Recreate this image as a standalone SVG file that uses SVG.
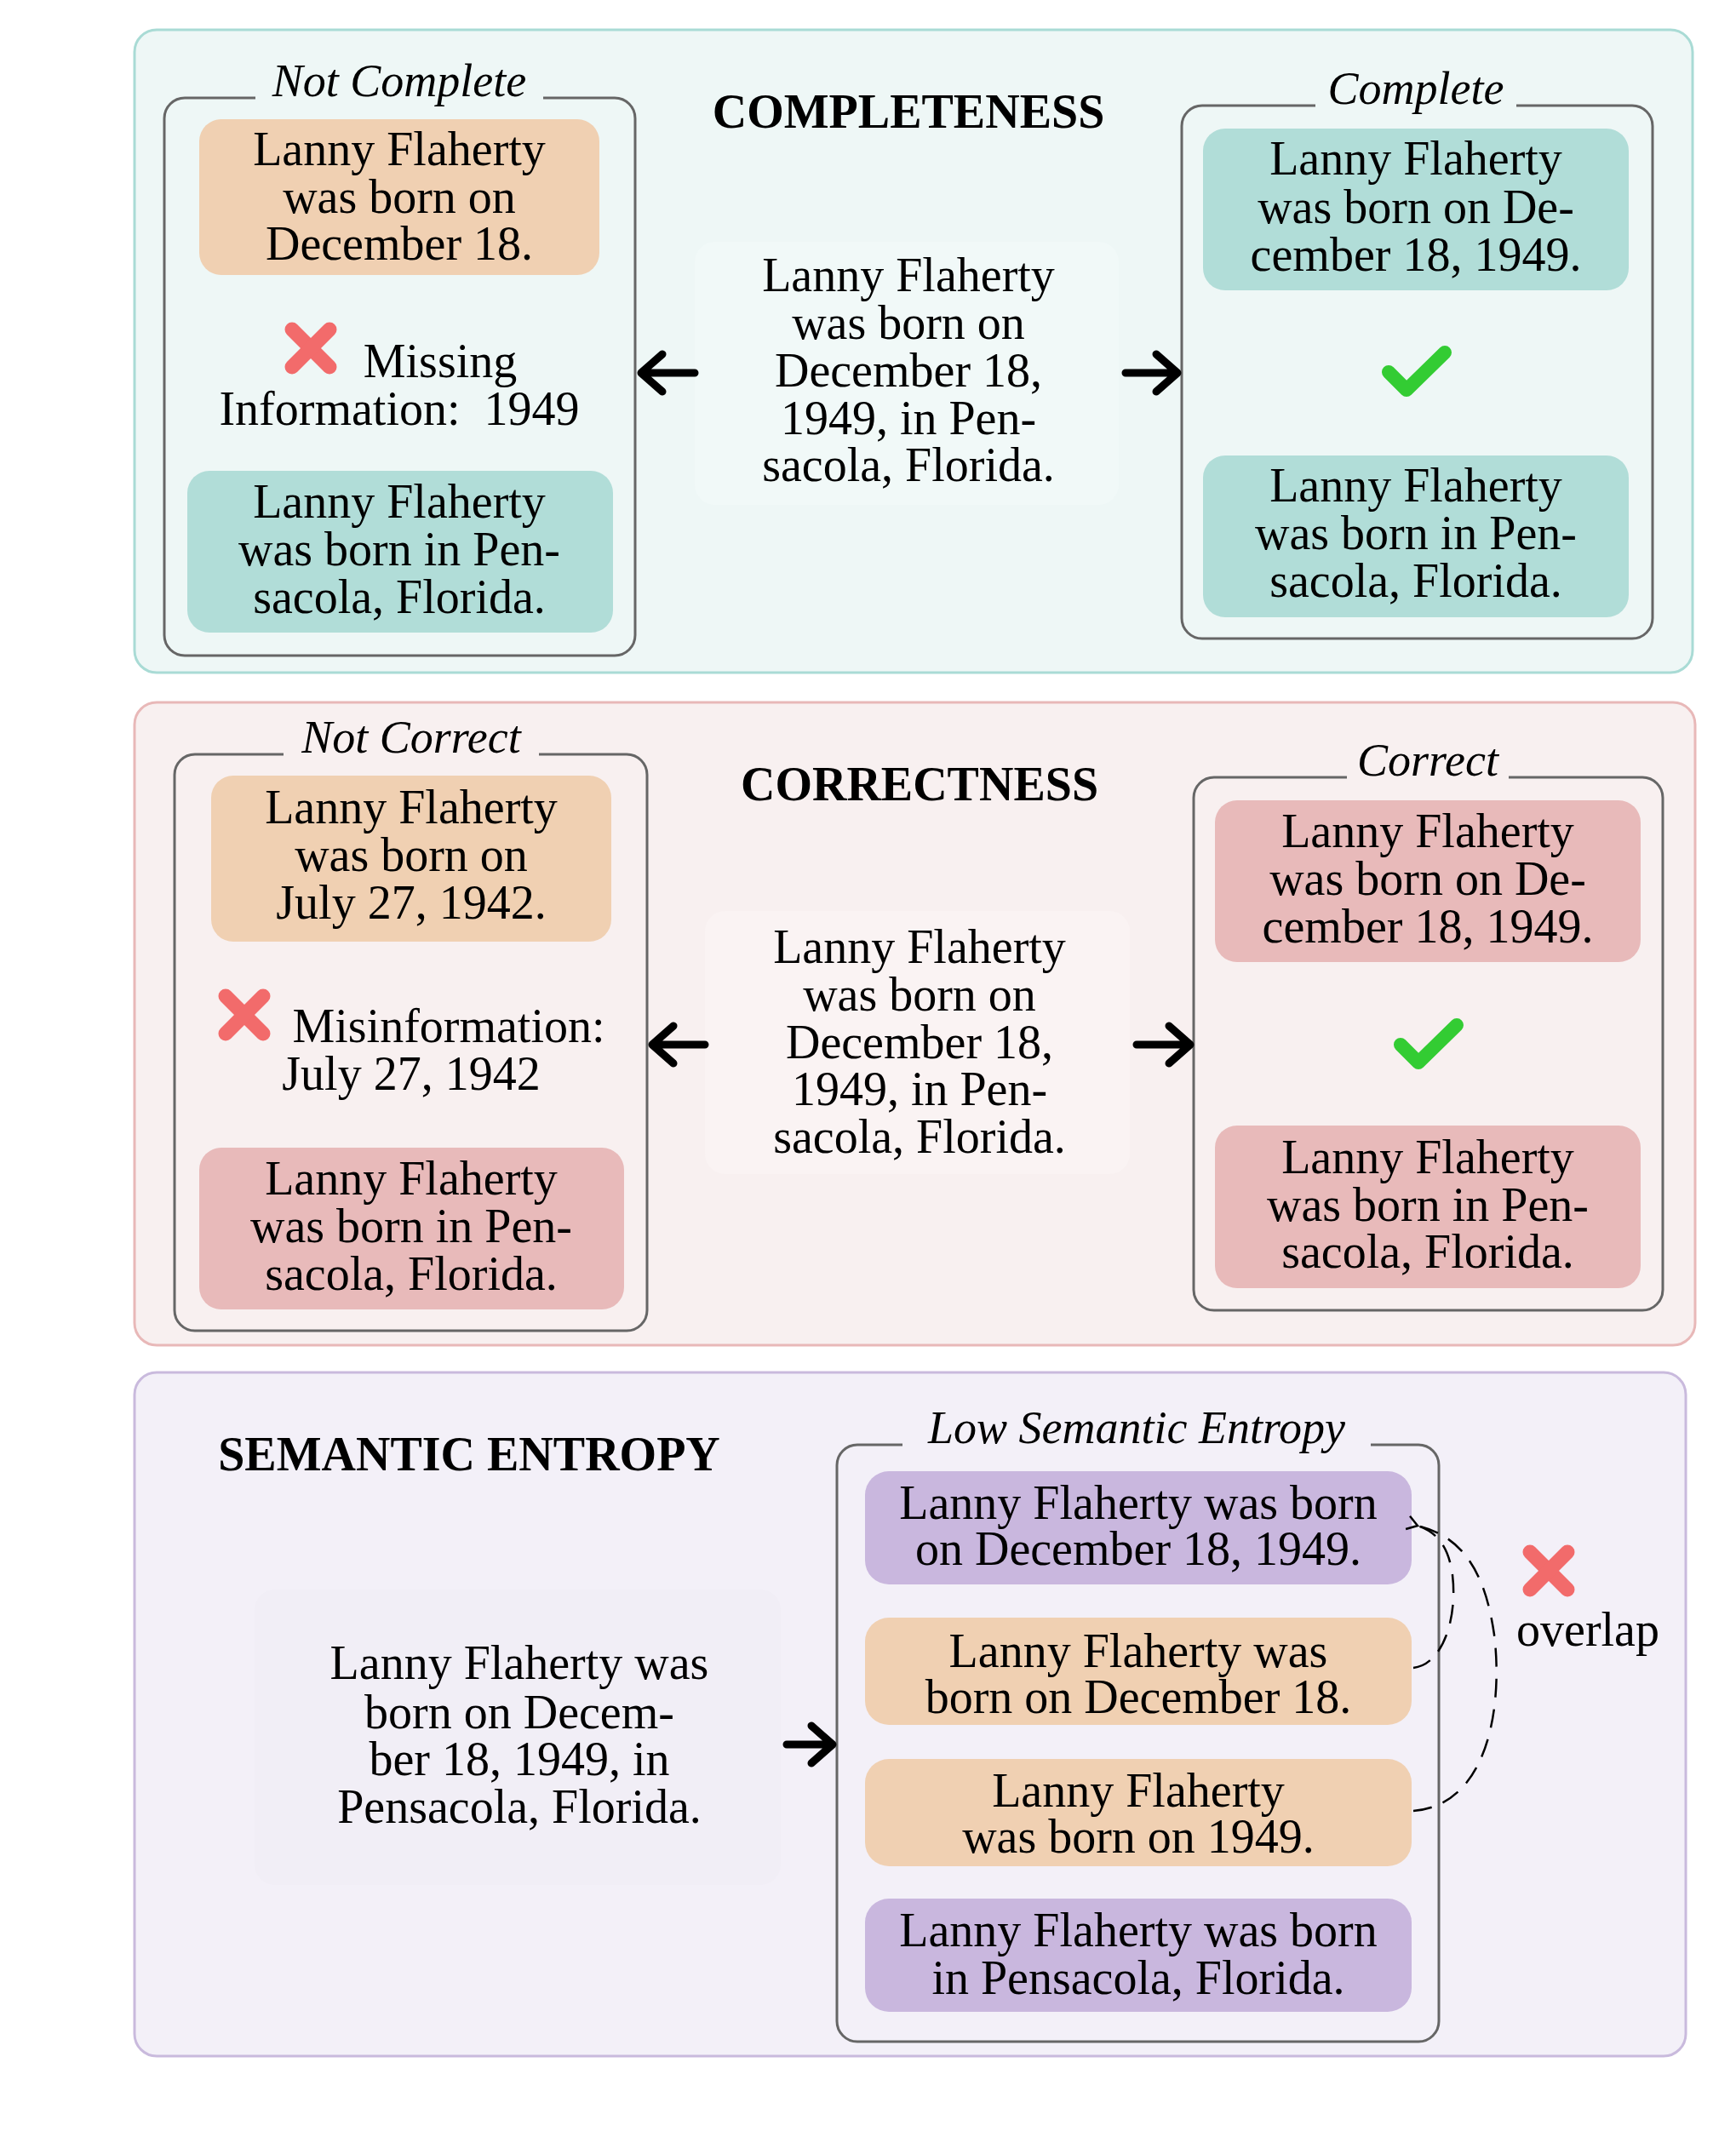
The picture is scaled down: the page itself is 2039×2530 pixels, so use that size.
<svg xmlns="http://www.w3.org/2000/svg" width="2039" height="2530" viewBox="0 0 2039 2530">
<defs>
<style>
text{font-family:"Liberation Serif","Times New Roman",serif;font-size:56px;fill:#000;text-anchor:middle}
.h{font-weight:bold;font-size:56px}
.it{font-style:italic;font-size:54px}
.inner{fill:none;stroke:#666;stroke-width:3}
.or{fill:#f0d0b2}.te{fill:#b1ddd8}.re{fill:#e8baba}.pu{fill:#c9b7de}
.arr{fill:none;stroke:#000;stroke-width:9;stroke-linecap:round;stroke-linejoin:round}
.x{stroke:#f26b6b;stroke-width:17;stroke-linecap:round}
.ck{fill:none;stroke:#33cc33;stroke-width:16;stroke-linecap:round;stroke-linejoin:round}
.dash{fill:none;stroke:#000;stroke-width:2.5;stroke-dasharray:22,14}
</style>
<marker id="oh" markerWidth="20" markerHeight="20" refX="3" refY="10" orient="auto" markerUnits="userSpaceOnUse"><path d="M15,2 L3,10 L15,18" fill="none" stroke="#000" stroke-width="2.5"/></marker>
</defs>
<rect width="2039" height="2530" fill="#fff"/>
<!-- Panel 1 -->
<g id="completeness">
<rect x="158" y="35" width="1830" height="755" rx="26" fill="#eef7f6" stroke="#a9dbd5" stroke-width="3"/>
<text class="h" x="1067" y="150">COMPLETENESS</text>
<rect x="816" y="284" width="498" height="309" rx="24" fill="#f1f9f8"/>
<text x="1067" y="342">Lanny Flaherty</text><text x="1067" y="398">was born on</text><text x="1067" y="454">December 18,</text><text x="1067" y="510">1949, in Pen-</text><text x="1067" y="565">sacola, Florida.</text>
</g>
<g id="not-complete">
<rect class="inner" x="193" y="115" width="553" height="655" rx="24"/>
<rect x="300" y="85" width="338" height="50" fill="#eef7f6"/>
<text class="it" x="469" y="113">Not Complete</text>
<rect class="or" x="234" y="140" width="470" height="183" rx="26"/>
<text x="469" y="194">Lanny Flaherty</text><text x="469" y="250">was born on</text><text x="469" y="305">December 18.</text>
<g transform="translate(365,409)"><line class="x" x1="-22" y1="-22" x2="22" y2="22"/><line class="x" x1="22" y1="-22" x2="-22" y2="22"/></g>
<text x="517" y="443">Missing</text>
<text x="469" y="499" xml:space="preserve">Information:  1949</text>
<rect class="te" x="220" y="553" width="500" height="190" rx="26"/>
<text x="469" y="608">Lanny Flaherty</text><text x="469" y="664">was born in Pen-</text><text x="469" y="720">sacola, Florida.</text>
</g>
<g id="complete">
<rect class="inner" x="1388" y="124" width="553" height="626" rx="24"/>
<rect x="1545" y="94" width="236" height="50" fill="#eef7f6"/>
<text class="it" x="1663" y="122">Complete</text>
<rect class="te" x="1413" y="151" width="500" height="190" rx="26"/>
<text x="1663" y="205">Lanny Flaherty</text><text x="1663" y="262">was born on De-</text><text x="1663" y="318">cember 18, 1949.</text>
<path class="ck" d="M1631,437 L1652,458 L1697,414"/>
<rect class="te" x="1413" y="535" width="500" height="190" rx="26"/>
<text x="1663" y="589">Lanny Flaherty</text><text x="1663" y="645">was born in Pen-</text><text x="1663" y="701">sacola, Florida.</text>
</g>
<!-- Panel 2 -->
<g id="correctness">
<rect x="158" y="825" width="1833" height="755" rx="26" fill="#f8f0f0" stroke="#e8b8b8" stroke-width="3"/>
<text class="h" x="1080" y="940">CORRECTNESS</text>
<rect x="828" y="1070" width="499" height="309" rx="24" fill="#faf3f3"/>
<text x="1080" y="1131">Lanny Flaherty</text><text x="1080" y="1187">was born on</text><text x="1080" y="1243">December 18,</text><text x="1080" y="1298">1949, in Pen-</text><text x="1080" y="1354">sacola, Florida.</text>
</g>
<g id="not-correct">
<rect class="inner" x="205" y="886" width="555" height="677" rx="24"/>
<rect x="333" y="856" width="300" height="50" fill="#f8f0f0"/>
<text class="it" x="483" y="884">Not Correct</text>
<rect class="or" x="248" y="911" width="470" height="195" rx="26"/>
<text x="483" y="967">Lanny Flaherty</text><text x="483" y="1023">was born on</text><text x="483" y="1079">July 27, 1942.</text>
<g transform="translate(287,1192)"><line class="x" x1="-22" y1="-22" x2="22" y2="22"/><line class="x" x1="22" y1="-22" x2="-22" y2="22"/></g>
<text x="527" y="1224">Misinformation:</text>
<text x="483" y="1280">July 27, 1942</text>
<rect class="re" x="234" y="1348" width="499" height="190" rx="26"/>
<text x="483" y="1403">Lanny Flaherty</text><text x="483" y="1459">was born in Pen-</text><text x="483" y="1515">sacola, Florida.</text>
</g>
<g id="correct">
<rect class="inner" x="1402" y="913" width="551" height="626" rx="24"/>
<rect x="1582" y="883" width="190" height="50" fill="#f8f0f0"/>
<text class="it" x="1677" y="911">Correct</text>
<rect class="re" x="1427" y="940" width="500" height="190" rx="26"/>
<text x="1677" y="995">Lanny Flaherty</text><text x="1677" y="1051">was born on De-</text><text x="1677" y="1107">cember 18, 1949.</text>
<path class="ck" d="M1645,1227 L1666,1248 L1711,1204"/>
<rect class="re" x="1427" y="1322" width="500" height="191" rx="26"/>
<text x="1677" y="1378">Lanny Flaherty</text><text x="1677" y="1434">was born in Pen-</text><text x="1677" y="1489">sacola, Florida.</text>
</g>
<!-- Panel 3 -->
<g id="semantic-entropy">
<rect x="158" y="1612" width="1822" height="803" rx="26" fill="#f3f0f8" stroke="#c9badd" stroke-width="3"/>
<text class="h" x="551" y="1727">SEMANTIC ENTROPY</text>
<rect x="299" y="1867" width="618" height="347" rx="24" fill="#f1eef6"/>
<text x="610" y="1972">Lanny Flaherty was</text><text x="610" y="2030">born on Decem-</text><text x="610" y="2085">ber 18, 1949, in</text><text x="610" y="2141">Pensacola, Florida.</text>
</g>
<g id="low-semantic-entropy">
<rect class="inner" x="983" y="1697" width="707" height="701" rx="24"/>
<rect x="1060" y="1667" width="550" height="50" fill="#f3f0f8"/>
<text class="it" x="1335" y="1695">Low Semantic Entropy</text>
<rect class="pu" x="1016" y="1728" width="642" height="133" rx="28"/>
<text x="1337" y="1784">Lanny Flaherty was born</text><text x="1337" y="1838">on December 18, 1949.</text>
<rect class="or" x="1016" y="1900" width="642" height="126" rx="28"/>
<text x="1337" y="1958">Lanny Flaherty was</text><text x="1337" y="2012">born on December 18.</text>
<rect class="or" x="1016" y="2066" width="642" height="126" rx="28"/>
<text x="1337" y="2122">Lanny Flaherty</text><text x="1337" y="2176">was born on 1949.</text>
<rect class="pu" x="1016" y="2230" width="642" height="133" rx="28"/>
<text x="1337" y="2286">Lanny Flaherty was born</text><text x="1337" y="2342">in Pensacola, Florida.</text>
</g>
<g id="overlap">
<g transform="translate(1819,1845)"><line class="x" x1="-22" y1="-22" x2="22" y2="22"/><line class="x" x1="22" y1="-22" x2="-22" y2="22"/></g>
<text x="1865" y="1933">overlap</text>
</g>
<!-- Connectors -->
<g id="connectors">
<path class="arr" d="M816,438 H755 M778,416 L753,438 L778,460"/>
<path class="arr" d="M1322,438 H1380 M1358,416 L1383,438 L1358,460"/>
<path class="arr" d="M828,1227 H768 M791,1205 L766,1227 L791,1249"/>
<path class="arr" d="M1335,1227 H1395 M1373,1205 L1398,1227 L1373,1249"/>
<path class="arr" d="M924,2049 H975 M953,2027 L978,2049 L953,2071"/>
<path class="dash" d="M1660,1959 C1695,1955 1712,1900 1706,1850 C1702,1820 1690,1800 1665,1792" marker-end="url(#oh)"/>
<path class="dash" d="M1660,2127 C1750,2120 1765,2000 1755,1920 C1745,1850 1720,1805 1665,1792"/>
</g>
</svg>
